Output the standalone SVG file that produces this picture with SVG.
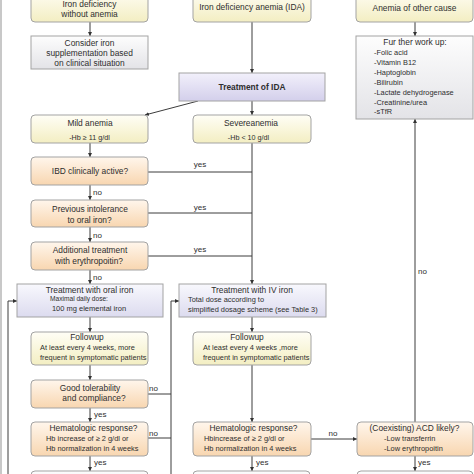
<svg xmlns="http://www.w3.org/2000/svg" width="474" height="474" viewBox="0 0 474 474">
<defs>
<linearGradient id="gY" x1="0" y1="0" x2="0" y2="1"><stop offset="0" stop-color="#fffef6"/><stop offset="1" stop-color="#f3eec2"/></linearGradient>
<linearGradient id="gO" x1="0" y1="0" x2="0" y2="1"><stop offset="0" stop-color="#fff6ec"/><stop offset="1" stop-color="#f8d6b0"/></linearGradient>
<linearGradient id="gL" x1="0" y1="0" x2="0" y2="1"><stop offset="0" stop-color="#f8f8fd"/><stop offset="1" stop-color="#dcdbef"/></linearGradient>
<linearGradient id="gP" x1="0" y1="0" x2="0" y2="1"><stop offset="0" stop-color="#f2f0fb"/><stop offset="1" stop-color="#d3cfeb"/></linearGradient>
<linearGradient id="gG" x1="0" y1="0" x2="0" y2="1"><stop offset="0" stop-color="#fdfdfd"/><stop offset="1" stop-color="#e3e3e7"/></linearGradient>
<marker id="ah" viewBox="0 0 6 6" refX="6" refY="3" markerWidth="4" markerHeight="4" orient="auto"><path d="M0,0 L6,3 L0,6z" fill="#333"/></marker>
</defs>
<style>
text{font-family:"Liberation Sans",Arial,sans-serif;fill:#2e2e2e}
.t{font-size:8.4px;text-anchor:middle}
.s{font-size:7.4px}
.sc{font-size:7.2px;text-anchor:middle}
.b{font-size:8.4px;font-weight:bold;text-anchor:middle}
.l{font-size:8px}
.lc{font-size:8px;text-anchor:middle}
.y{fill:url(#gY);stroke:#a3a3a3;stroke-width:1}
.o{fill:url(#gO);stroke:#a3a3a3;stroke-width:1}
.v{fill:url(#gL);stroke:#a3a3a3;stroke-width:1}
.p{fill:url(#gP);stroke:#a3a3a3;stroke-width:1}
.g{fill:url(#gG);stroke:#a3a3a3;stroke-width:1}
.c{fill:none;stroke:#3c3c3c;stroke-width:1}
.a{marker-end:url(#ah)}
</style>
<rect x="0" y="0" width="474" height="474" fill="#fff"/>
<rect x="0" y="0" width="2" height="474" fill="#c8c8c8"/>

<g id="connectors">
<path class="c a" d="M90,22 V36"/>
<path class="c a" d="M252,22 V73"/>
<path class="c a" d="M415,22 V36"/>
<path class="c a" d="M198,101 L145,115"/>
<path class="c a" d="M252,101 V115"/>
<path class="c a" d="M90,143 V157"/>
<path class="c a" d="M90,185 V200"/>
<path class="c a" d="M90,227 V242"/>
<path class="c a" d="M90,270 V284"/>
<path class="c" d="M148,172 H252 M148,213 H252 M148,256 H252"/>
<path class="c a" d="M252,143 V284"/>
<path class="c a" d="M8,474 V301 H17"/>
<path class="c a" d="M171,474 V301 H179"/>
<path class="c" d="M148,394 H171 M148,438 H171"/>
<path class="c a" d="M90,317 V332"/>
<path class="c a" d="M90,365 V380"/>
<path class="c a" d="M90,408 V422"/>
<path class="c a" d="M90,456 V471"/>
<path class="c a" d="M252,317 V332"/>
<path class="c a" d="M252,365 V422"/>
<path class="c a" d="M252,456 V471"/>
<path class="c a" d="M311,439 H357"/>
<path class="c a" d="M415,422 V119"/>
<path class="c a" d="M415,456 V471"/>
<text class="lc" x="200" y="167">yes</text>
<text class="lc" x="200" y="209.6">yes</text>
<text class="lc" x="200" y="252">yes</text>
<text class="l" x="93" y="195">no</text>
<text class="l" x="93" y="238">no</text>
<text class="l" x="93" y="280">no</text>
<text class="l" x="149" y="391">no</text>
<text class="l" x="149" y="436">no</text>
<text class="l" x="94" y="417">yes</text>
<text class="l" x="94" y="465">yes</text>
<text class="lc" x="333" y="436">no</text>
<text class="l" x="256" y="465">yes</text>
<text class="l" x="418" y="465">yes</text>
<text class="l" x="418" y="274">no</text>
</g>

<g id="n-id-no-anemia"><rect class="y" x="31" y="-10" width="117" height="32" rx="4"/>
<text class="t" x="89.5" y="6.5">Iron deficiency</text><text class="t" x="89.5" y="16.5">without anemia</text></g>
<g id="n-ida"><rect class="y" x="193" y="-10" width="118" height="32" rx="4"/>
<text class="t" x="252" y="10.3">Iron deficiency anemia (IDA)</text></g>
<g id="n-other"><rect class="y" x="356" y="-10" width="117" height="32" rx="4"/>
<text class="t" x="414.5" y="11">Anemia of other cause</text></g>
<g id="n-consider"><rect class="g" x="31" y="36" width="117" height="33"/>
<text class="t" x="89.5" y="46">Consider iron</text><text class="t" x="89.5" y="56">supplementation based</text><text class="t" x="89.5" y="66">on clinical situation</text></g>
<g id="n-workup"><rect class="g" x="356" y="36" width="117" height="83"/>
<text class="t" x="415" y="45">Fur ther work up:</text>
<text class="s" x="374" y="55">-Folic acid</text>
<text class="s" x="374" y="64.9">-Vitamin B12</text>
<text class="s" x="374" y="74.8">-Haptoglobin</text>
<text class="s" x="374" y="84.7">-Bilirubin</text>
<text class="s" x="374" y="94.6">-Lactate dehydrogenase</text>
<text class="s" x="374" y="104.5">-Creatinine/urea</text>
<text class="s" x="374" y="114.4">-sTfR</text></g>
<g id="n-treatment"><rect class="p" x="179" y="73" width="146" height="28"/>
<text class="b" x="252" y="90">Treatment of IDA</text></g>
<g id="n-mild"><rect class="y" x="31" y="115" width="117" height="28" rx="4"/>
<text class="t" x="90" y="126.3">Mild anemia</text><text class="sc" x="89.5" y="139.5">-Hb ≥ 11 g/dl</text></g>
<g id="n-severe"><rect class="y" x="193" y="115" width="118" height="28" rx="4"/>
<text class="t" x="251" y="126.3">Severeanemia</text><text class="sc" x="248.5" y="139.5">-Hb &lt; 10 g/dl</text></g>
<g id="n-ibd"><rect class="o" x="31" y="157" width="117" height="28" rx="4"/>
<text class="t" x="90" y="174">IBD clinically active?</text></g>
<g id="n-intol"><rect class="o" x="31" y="200" width="117" height="27" rx="4"/>
<text class="t" x="90" y="212">Previous intolerance</text><text class="t" x="89.5" y="223">to oral iron?</text></g>
<g id="n-epo"><rect class="o" x="31" y="242" width="117" height="28" rx="4"/>
<text class="t" x="90" y="253">Additional treatment</text><text class="t" x="89" y="264">with erythropoitin?</text></g>
<g id="n-oral"><rect class="v" x="17" y="284" width="146" height="33"/>
<text class="t" x="89.5" y="292.6">Treatment with oral iron</text>
<text class="sc" x="79" y="301.2" style="font-size:6.6px">Maximal daily dose:</text>
<text class="sc" x="89" y="311.3" style="font-size:7.5px">100 mg elemental iron</text></g>
<g id="n-iv"><rect class="v" x="179" y="284" width="147" height="33"/>
<text class="t" x="252" y="292.6">Treatment with IV iron</text>
<text class="s" x="188" y="302">Total dose according to</text>
<text class="s" x="188" y="311.5">simplified dosage scheme (see Table 3)</text></g>
<g id="n-follow1"><rect class="y" x="31" y="332" width="117" height="33" rx="4"/>
<text class="t" x="87" y="339.5">Followup</text>
<text class="s" x="40" y="349.6">At least every 4 weeks, more</text>
<text class="s" x="40" y="359.6">frequent in symptomatic patients</text></g>
<g id="n-follow2"><rect class="y" x="193" y="332" width="118" height="33" rx="4"/>
<text class="t" x="247" y="339.5">Followup</text>
<text class="s" x="203" y="349.6">At least every 4 weeks ,more</text>
<text class="s" x="203" y="359.6">frequent in symptomatic patients</text></g>
<g id="n-tol"><rect class="o" x="31" y="380" width="117" height="28" rx="4"/>
<text class="t" x="90" y="391">Good tolerability</text><text class="t" x="94" y="401">and compliance?</text></g>
<g id="n-hem1"><rect class="o" x="31" y="422" width="117" height="34" rx="4"/>
<text class="t" x="93.5" y="431">Hematologic response?</text>
<text class="s" x="46" y="440.6">Hb increase of  ≥ 2 g/dl or</text>
<text class="s" x="46" y="450.6">Hb normalization in 4 weeks</text></g>
<g id="n-hem2"><rect class="o" x="193" y="422" width="118" height="34" rx="4"/>
<text class="t" x="253.5" y="431">Hematologic response?</text>
<text class="s" x="204" y="440.6">Hbincrease of  ≥ 2 g/dl or</text>
<text class="s" x="204" y="450.6">Hb normalization in 4 weeks</text></g>
<g id="n-acd"><rect class="o" x="357" y="422" width="116" height="34" rx="4"/>
<text class="t" x="414.5" y="431">(Coexisting) ACD likely?</text>
<text class="s" x="384" y="440.6">-Low transferrin</text>
<text class="s" x="384" y="450.6">-Low erythropoitin</text></g>
<g id="n-bottom1"><rect class="g" x="31" y="471" width="117" height="20" rx="4"/></g>
<g id="n-bottom2"><rect class="g" x="193" y="471" width="117" height="20" rx="4"/></g>
<g id="n-bottom3"><rect class="g" x="357" y="471" width="116" height="20" rx="4"/></g>
</svg>
